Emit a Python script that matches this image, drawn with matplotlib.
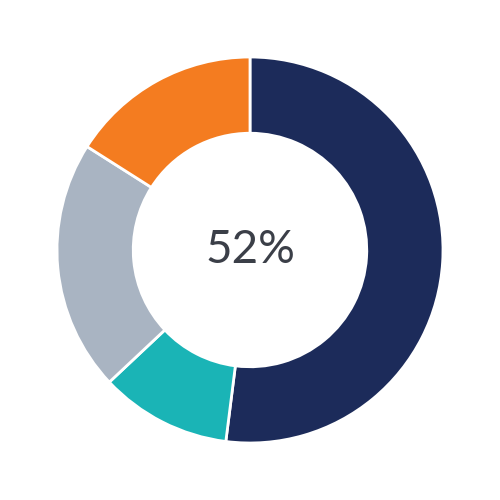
import matplotlib
matplotlib.use("Agg")
import matplotlib.pyplot as plt

labels = ["Navy", "Teal", "Gray", "Orange"]
shares = [52, 11, 21, 16]
colors = ["#1c2b5a", "#1ab4b6", "#a9b4c2", "#f47c20"]
center_text = "52%"

fig = plt.figure(figsize=(5, 5), dpi=100)
ax = fig.add_axes([0, 0, 1, 1])
ax.pie(shares, colors=colors, startangle=90, counterclock=False,
       radius=1.0, wedgeprops=dict(width=0.395, edgecolor="white", linewidth=2))
ax.text(0, 0, center_text, ha="center", va="center", fontsize=33,
        color="#3b3f48", family=["Lato", "DejaVu Sans"])
lim = 250 / 193
ax.set_xlim(-lim, lim)
ax.set_ylim(-lim, lim)
ax.set_aspect("equal")
ax.axis("off")
fig.savefig("out.png", dpi=100, facecolor="white")
